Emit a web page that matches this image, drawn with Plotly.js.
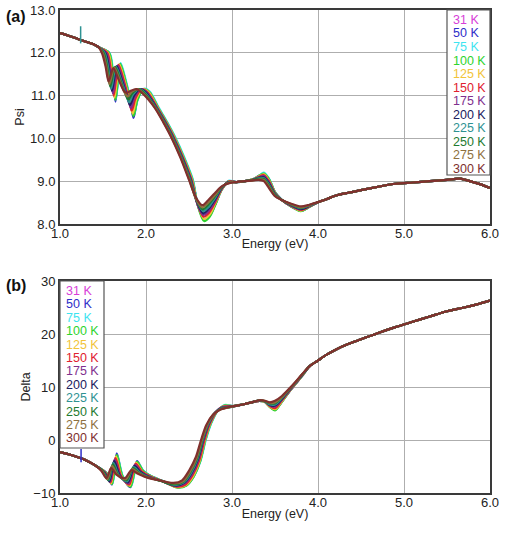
<!DOCTYPE html>
<html>
<head>
<meta charset="utf-8">
<script src="https://cdn.plot.ly/plotly-3.0.1.min.js"></script>
<style>html,body{margin:0;padding:0;background:#fff;}#chart{width:512px;height:534px;}</style>
</head>
<body>
<div id="chart"></div>
<script>
// ---------- DATA ----------
const temps = ['31 K','50 K','75 K','100 K','125 K','150 K','175 K','200 K','225 K','250 K','275 K','300 K'];

// Psi: common start / mid / tail
const psiStartE = [1.00,1.10,1.20,1.30,1.40,1.45];
const psiStartV = [12.46,12.40,12.33,12.26,12.19,12.13];
const psiMidE = [3.05,3.15];
const psiMidV = [8.98,9.00];
const psiBE = [3.25,3.31,3.37,3.43,3.50,3.58,3.68,3.80,3.90];
const psiTailE = [4.00,4.10,4.20,4.35,4.50,4.70,4.90,5.10,5.30,5.50,5.65,5.80,5.90,6.00];
const psiTailV = [8.51,8.58,8.66,8.73,8.79,8.87,8.94,8.97,9.00,9.03,9.06,8.98,8.92,8.84];

// Psi feature region 1.5-3.0 eV, per temperature (energies and values)
const psiE_31  = [1.57,1.61,1.645,1.70,1.76,1.82,1.855,1.90,1.97,2.04,2.14,2.24,2.34,2.44,2.54,2.60,2.675,2.74,2.80,2.88,2.96];
const psiE_50  = [1.57,1.61,1.645,1.70,1.76,1.82,1.855,1.90,1.97,2.04,2.14,2.24,2.34,2.44,2.54,2.60,2.675,2.74,2.80,2.88,2.96];
const psiE_75  = [1.575,1.615,1.65,1.705,1.765,1.825,1.86,1.905,1.975,2.045,2.145,2.245,2.345,2.445,2.545,2.60,2.675,2.74,2.80,2.88,2.96];
const psiE_100 = [1.57,1.61,1.645,1.70,1.76,1.82,1.855,1.90,1.97,2.04,2.14,2.24,2.34,2.44,2.54,2.60,2.675,2.74,2.80,2.88,2.96];
const psiE_125 = [1.56,1.60,1.635,1.69,1.75,1.81,1.845,1.89,1.96,2.03,2.135,2.235,2.335,2.435,2.535,2.60,2.675,2.74,2.80,2.88,2.96];
const psiE_150 = [1.55,1.59,1.625,1.68,1.74,1.80,1.835,1.88,1.95,2.02,2.13,2.23,2.33,2.43,2.53,2.595,2.67,2.735,2.80,2.88,2.96];
const psiE_175 = [1.54,1.58,1.615,1.67,1.73,1.79,1.825,1.87,1.94,2.01,2.125,2.225,2.325,2.425,2.525,2.59,2.665,2.73,2.80,2.88,2.96];
const psiE_200 = [1.53,1.57,1.605,1.66,1.72,1.78,1.815,1.86,1.93,2.00,2.12,2.22,2.32,2.42,2.52,2.59,2.665,2.73,2.80,2.88,2.96];
const psiE_225 = [1.52,1.56,1.595,1.65,1.71,1.77,1.805,1.85,1.92,1.99,2.115,2.215,2.315,2.415,2.515,2.59,2.665,2.73,2.80,2.88,2.96];
const psiE_250 = [1.51,1.55,1.585,1.64,1.70,1.76,1.795,1.84,1.91,1.98,2.11,2.21,2.31,2.41,2.51,2.585,2.66,2.725,2.80,2.88,2.96];
const psiE_275 = [1.50,1.54,1.575,1.63,1.69,1.75,1.785,1.83,1.90,1.97,2.105,2.205,2.305,2.405,2.505,2.58,2.655,2.72,2.80,2.88,2.96];
const psiE_300 = [1.49,1.53,1.565,1.62,1.68,1.74,1.775,1.82,1.89,1.96,2.10,2.20,2.30,2.40,2.50,2.58,2.655,2.72,2.80,2.88,2.96];

const psiA_31  = [12.00,11.60,10.92,11.74,11.35,10.86,10.55,10.91,11.15,11.08,10.72,10.38,10.00,9.55,9.03,8.46,8.10,8.20,8.44,8.80,9.00];
const psiA_50  = [12.00,11.58,10.86,11.74,11.35,10.84,10.48,10.90,11.15,11.08,10.72,10.38,10.00,9.55,9.03,8.46,8.11,8.20,8.43,8.80,9.00];
const psiA_75  = [12.00,11.61,10.93,11.76,11.36,10.87,10.56,10.92,11.16,11.09,10.73,10.39,10.01,9.56,9.04,8.46,8.11,8.21,8.44,8.81,9.01];
const psiA_100 = [12.00,11.60,10.90,11.74,11.35,10.85,10.52,10.90,11.15,11.08,10.72,10.38,10.00,9.55,9.03,8.45,8.07,8.17,8.42,8.80,9.00];
const psiA_125 = [12.00,11.61,10.95,11.73,11.35,10.88,10.58,10.93,11.15,11.08,10.72,10.38,10.00,9.55,9.03,8.47,8.12,8.22,8.46,8.81,8.99];
const psiA_150 = [12.00,11.62,11.00,11.72,11.36,10.91,10.65,10.95,11.15,11.07,10.72,10.38,10.00,9.55,9.03,8.49,8.17,8.27,8.49,8.82,8.99];
const psiA_175 = [11.99,11.63,11.05,11.70,11.36,10.95,10.71,10.98,11.15,11.07,10.72,10.38,10.00,9.55,9.03,8.51,8.21,8.31,8.53,8.83,8.98];
const psiA_200 = [11.99,11.64,11.11,11.69,11.36,10.98,10.78,11.00,11.15,11.07,10.72,10.38,10.00,9.55,9.03,8.53,8.25,8.36,8.56,8.84,8.98];
const psiA_225 = [11.99,11.65,11.16,11.68,11.37,11.01,10.84,11.03,11.15,11.06,10.72,10.38,10.00,9.55,9.03,8.55,8.30,8.40,8.60,8.85,8.97];
const psiA_250 = [11.99,11.66,11.21,11.67,11.37,11.04,10.91,11.05,11.15,11.06,10.72,10.38,10.00,9.55,9.03,8.57,8.34,8.45,8.64,8.86,8.96];
const psiA_275 = [11.98,11.67,11.27,11.66,11.38,11.08,10.98,11.08,11.15,11.05,10.72,10.38,10.00,9.55,9.03,8.59,8.39,8.49,8.67,8.87,8.96];
const psiA_300 = [11.98,11.68,11.33,11.64,11.38,11.12,11.06,11.11,11.15,11.05,10.72,10.38,10.00,9.55,9.03,8.62,8.44,8.55,8.72,8.88,8.95];

// Psi feature region 3.25-3.9 eV (on psiBE)
const psiB_31  = [9.05,9.12,9.17,9.04,8.74,8.56,8.42,8.31,8.40];
const psiB_50  = [9.05,9.12,9.17,9.05,8.74,8.56,8.42,8.31,8.40];
const psiB_75  = [9.05,9.12,9.20,9.06,8.75,8.56,8.42,8.31,8.40];
const psiB_100 = [9.05,9.12,9.18,9.05,8.74,8.56,8.42,8.30,8.40];
const psiB_125 = [9.05,9.11,9.16,9.02,8.73,8.56,8.43,8.31,8.41];
const psiB_150 = [9.04,9.10,9.14,9.00,8.72,8.56,8.43,8.33,8.41];
const psiB_175 = [9.04,9.09,9.12,8.97,8.71,8.56,8.44,8.34,8.42];
const psiB_200 = [9.04,9.08,9.09,8.95,8.70,8.56,8.45,8.35,8.42];
const psiB_225 = [9.03,9.07,9.07,8.92,8.69,8.56,8.46,8.37,8.43];
const psiB_250 = [9.03,9.06,9.05,8.90,8.68,8.56,8.46,8.38,8.44];
const psiB_275 = [9.02,9.04,9.03,8.87,8.66,8.56,8.47,8.39,8.44];
const psiB_300 = [9.02,9.03,9.00,8.84,8.65,8.56,8.48,8.41,8.45];

// Delta: common start / mid / tail
const deltaStartE = [1.00,1.10,1.20,1.30,1.40];
const deltaStartV = [-2.3,-2.7,-3.2,-3.8,-4.7];
const deltaMidE = [3.06,3.15,3.25];
const deltaMidV = [6.5,6.8,7.2];
const deltaBE = [3.32,3.38,3.44,3.50,3.58,3.66,3.74,3.82];
const deltaTailE = [3.90,4.00,4.10,4.20,4.35,4.50,4.70,4.90,5.10,5.30,5.50,5.70,5.85,6.00];
const deltaTailV = [13.9,15.0,16.1,17.0,18.1,19.0,20.2,21.3,22.3,23.3,24.3,25.0,25.6,26.3];

// Delta feature region 1.5-3.0 eV, per temperature
const deltaE_31  = [1.54,1.60,1.655,1.72,1.815,1.89,1.96,2.06,2.20,2.37,2.47,2.55,2.63,2.69,2.75,2.83,2.91,3.01];
const deltaE_50  = [1.545,1.605,1.66,1.725,1.82,1.895,1.965,2.065,2.20,2.37,2.47,2.55,2.63,2.69,2.75,2.83,2.91,3.01];
const deltaE_75  = [1.55,1.61,1.665,1.73,1.825,1.90,1.97,2.07,2.205,2.375,2.475,2.555,2.635,2.695,2.755,2.835,2.915,3.015];
const deltaE_100 = [1.545,1.605,1.66,1.725,1.82,1.895,1.965,2.065,2.20,2.37,2.47,2.55,2.63,2.69,2.75,2.83,2.91,3.01];
const deltaE_125 = [1.535,1.595,1.65,1.715,1.81,1.885,1.955,2.055,2.195,2.365,2.465,2.545,2.625,2.685,2.745,2.825,2.905,3.005];
const deltaE_150 = [1.53,1.59,1.645,1.71,1.805,1.88,1.95,2.05,2.19,2.36,2.46,2.54,2.62,2.68,2.74,2.82,2.90,3.00];
const deltaE_175 = [1.52,1.58,1.635,1.70,1.795,1.87,1.94,2.04,2.18,2.35,2.45,2.53,2.61,2.67,2.73,2.81,2.89,2.99];
const deltaE_200 = [1.515,1.575,1.63,1.695,1.79,1.865,1.935,2.035,2.175,2.345,2.445,2.525,2.605,2.665,2.725,2.805,2.885,2.985];
const deltaE_225 = [1.505,1.565,1.62,1.685,1.78,1.855,1.925,2.025,2.17,2.34,2.44,2.52,2.60,2.66,2.72,2.80,2.88,2.98];
const deltaE_250 = [1.50,1.56,1.615,1.68,1.775,1.85,1.92,2.02,2.165,2.335,2.435,2.515,2.595,2.655,2.715,2.795,2.875,2.975];
const deltaE_275 = [1.49,1.55,1.605,1.67,1.765,1.84,1.91,2.01,2.16,2.33,2.43,2.51,2.59,2.65,2.71,2.79,2.87,2.97];
const deltaE_300 = [1.48,1.54,1.595,1.66,1.755,1.83,1.90,2.00,2.15,2.32,2.42,2.50,2.58,2.64,2.70,2.78,2.86,2.96];

const deltaA_31  = [-6.3,-8.2,-2.9,-6.8,-8.7,-4.2,-5.8,-6.9,-7.8,-8.9,-8.5,-6.9,-3.9,0.0,3.0,5.5,6.4,6.4];
const deltaA_50  = [-6.3,-8.4,-2.5,-6.8,-8.9,-4.0,-5.8,-6.9,-7.8,-8.9,-8.5,-6.9,-3.9,0.0,3.0,5.5,6.4,6.4];
const deltaA_75  = [-6.3,-8.2,-3.0,-6.8,-8.7,-4.2,-5.8,-6.9,-7.8,-8.9,-8.5,-6.9,-3.9,0.0,3.0,5.5,6.6,6.4];
const deltaA_100 = [-6.3,-8.3,-2.8,-6.8,-8.8,-4.1,-5.8,-6.9,-7.8,-9.0,-8.6,-7.0,-4.0,0.0,3.0,5.5,6.5,6.4];
const deltaA_125 = [-6.2,-8.2,-3.1,-6.8,-8.6,-4.3,-5.9,-6.9,-7.8,-8.9,-8.5,-6.9,-3.9,0.0,3.0,5.4,6.4,6.4];
const deltaA_150 = [-6.2,-8.0,-3.4,-6.8,-8.4,-4.5,-5.9,-6.9,-7.8,-8.8,-8.4,-6.7,-3.8,0.0,3.0,5.3,6.3,6.3];
const deltaA_175 = [-6.1,-7.9,-3.7,-6.7,-8.2,-4.7,-6.0,-6.9,-7.7,-8.7,-8.2,-6.6,-3.7,0.0,2.9,5.3,6.2,6.3];
const deltaA_200 = [-6.1,-7.8,-4.0,-6.7,-8.0,-4.9,-6.0,-7.0,-7.7,-8.6,-8.1,-6.4,-3.6,0.0,2.9,5.2,6.1,6.3];
const deltaA_225 = [-6.0,-7.6,-4.3,-6.7,-7.8,-5.1,-6.1,-7.0,-7.7,-8.5,-8.0,-6.3,-3.5,0.0,2.9,5.1,6.0,6.2];
const deltaA_250 = [-5.9,-7.5,-4.6,-6.7,-7.6,-5.3,-6.2,-7.0,-7.7,-8.4,-7.9,-6.1,-3.4,0.0,2.9,5.0,5.9,6.2];
const deltaA_275 = [-5.9,-7.4,-4.9,-6.6,-7.4,-5.5,-6.2,-7.0,-7.6,-8.2,-7.8,-6.0,-3.3,0.0,2.8,4.9,5.8,6.2];
const deltaA_300 = [-5.8,-7.2,-5.3,-6.6,-7.2,-5.7,-6.3,-7.0,-7.6,-8.1,-7.6,-5.8,-3.2,0.0,2.8,4.8,5.7,6.2];

// Delta feature region 3.3-3.8 eV (on deltaBE)
const deltaB_31  = [7.4,7.2,6.3,5.8,7.3,9.0,10.6,12.2];
const deltaB_50  = [7.4,7.2,6.3,5.7,7.2,9.0,10.6,12.2];
const deltaB_75  = [7.4,7.2,6.3,5.7,7.3,9.0,10.6,12.2];
const deltaB_100 = [7.4,7.2,6.2,5.6,7.2,9.0,10.6,12.2];
const deltaB_125 = [7.4,7.2,6.3,5.8,7.3,9.1,10.6,12.2];
const deltaB_150 = [7.4,7.3,6.4,6.0,7.5,9.1,10.7,12.3];
const deltaB_175 = [7.4,7.3,6.5,6.3,7.6,9.2,10.7,12.3];
const deltaB_200 = [7.5,7.3,6.6,6.5,7.7,9.3,10.8,12.3];
const deltaB_225 = [7.5,7.3,6.7,6.7,7.9,9.4,10.8,12.4];
const deltaB_250 = [7.5,7.3,6.9,6.9,8.0,9.4,10.9,12.4];
const deltaB_275 = [7.5,7.4,7.0,7.1,8.1,9.5,10.9,12.5];
const deltaB_300 = [7.5,7.4,7.1,7.4,8.3,9.6,11.0,12.5];

// measurement glitches near 1.24 eV
const psiSpikeE = [1.24,1.24];
const psiSpikeV = [12.62,12.22];
const deltaSpikeE = [1.245,1.245];
const deltaSpikeV = [-1.7,-4.2];

// ---------- STYLE ----------
const colors = ['#d83ed8','#2e2ec8','#3ee4f0','#2ed42e','#f2c43a','#e0202e','#80308e','#20205e','#2e9292','#1e7a30','#8e703e','#80302e'];

const psiEs = [psiE_31,psiE_50,psiE_75,psiE_100,psiE_125,psiE_150,psiE_175,psiE_200,psiE_225,psiE_250,psiE_275,psiE_300];
const psiAs = [psiA_31,psiA_50,psiA_75,psiA_100,psiA_125,psiA_150,psiA_175,psiA_200,psiA_225,psiA_250,psiA_275,psiA_300];
const psiBs = [psiB_31,psiB_50,psiB_75,psiB_100,psiB_125,psiB_150,psiB_175,psiB_200,psiB_225,psiB_250,psiB_275,psiB_300];
const deltaEs = [deltaE_31,deltaE_50,deltaE_75,deltaE_100,deltaE_125,deltaE_150,deltaE_175,deltaE_200,deltaE_225,deltaE_250,deltaE_275,deltaE_300];
const deltaAs = [deltaA_31,deltaA_50,deltaA_75,deltaA_100,deltaA_125,deltaA_150,deltaA_175,deltaA_200,deltaA_225,deltaA_250,deltaA_275,deltaA_300];
const deltaBs = [deltaB_31,deltaB_50,deltaB_75,deltaB_100,deltaB_125,deltaB_150,deltaB_175,deltaB_200,deltaB_225,deltaB_250,deltaB_275,deltaB_300];

const traces = [];
temps.forEach((t, i) => {
  traces.push({
    type: 'scatter', mode: 'lines', name: t, xaxis: 'x', yaxis: 'y',
    x: [...psiStartE, ...psiEs[i], ...psiMidE, ...psiBE, ...psiTailE],
    y: [...psiStartV, ...psiAs[i], ...psiMidV, ...psiBs[i], ...psiTailV],
    line: {color: colors[i], width: 2.2, shape: 'spline', smoothing: 0.8},
    showlegend: false, hoverinfo: 'skip'
  });
});
temps.forEach((t, i) => {
  traces.push({
    type: 'scatter', mode: 'lines', name: t, xaxis: 'x2', yaxis: 'y2',
    x: [...deltaStartE, ...deltaEs[i], ...deltaMidE, ...deltaBE, ...deltaTailE],
    y: [...deltaStartV, ...deltaAs[i], ...deltaMidV, ...deltaBs[i], ...deltaTailV],
    line: {color: colors[i], width: 2.2, shape: 'spline', smoothing: 0.8},
    showlegend: false, hoverinfo: 'skip'
  });
});
traces.push({type:'scatter', mode:'lines', x: psiSpikeE, y: psiSpikeV, xaxis:'x', yaxis:'y',
  line:{color: colors[8], width: 1.5}, showlegend:false, hoverinfo:'skip'});
traces.push({type:'scatter', mode:'lines', x: deltaSpikeE, y: deltaSpikeV, xaxis:'x2', yaxis:'y2',
  line:{color: colors[1], width: 1.5}, showlegend:false, hoverinfo:'skip'});

const W = 512, H = 534;
const px = v => v / W;
const py = v => 1 - v / H;

const font = 'Liberation Sans, Arial, Helvetica, sans-serif';
const axisCommon = {
  showgrid: true, gridcolor: '#aeaeae', gridwidth: 1,
  showline: true, mirror: true, linecolor: '#3a3a3a', linewidth: 2,
  zeroline: false, ticks: '', tickfont: {size: 13, color: '#222'}
};

const annotations = [
  {text: '<b>(a)</b>', x: px(4), y: py(17), xref: 'paper', yref: 'paper', xanchor: 'left', yanchor: 'middle', showarrow: false, font: {size: 16, color: '#111'}},
  {text: '<b>(b)</b>', x: px(4), y: py(285), xref: 'paper', yref: 'paper', xanchor: 'left', yanchor: 'middle', showarrow: false, font: {size: 16, color: '#111'}}
];
temps.forEach((t, i) => {
  annotations.push({text: t, x: px(451), y: py(20 + i * 13.5), xref: 'paper', yref: 'paper', xanchor: 'left', yanchor: 'middle', showarrow: false, font: {size: 12.5, color: colors[i]}});
  annotations.push({text: t, x: px(64), y: py(291 + i * 13.4), xref: 'paper', yref: 'paper', xanchor: 'left', yanchor: 'middle', showarrow: false, font: {size: 12.5, color: colors[i]}});
});

const layout = {
  width: W, height: H,
  margin: {l: 0, r: 0, t: 0, b: 0},
  paper_bgcolor: '#fff', plot_bgcolor: '#fff',
  showlegend: false,
  font: {family: font, size: 13, color: '#222'},
  xaxis: Object.assign({}, axisCommon, {domain: [px(60), px(490)], anchor: 'y', range: [1, 6], dtick: 1, tick0: 1, tickformat: '.1f',
    ticklabelstandoff: -4, title: {text: 'Energy (eV)', font: {size: 12.5}, standoff: 0}}),
  yaxis: Object.assign({}, axisCommon, {domain: [py(224), py(10)], anchor: 'x', range: [8, 13], dtick: 1, tick0: 8, tickformat: '.1f',
    title: {text: 'Psi', font: {size: 12.5}, standoff: 3}}),
  xaxis2: Object.assign({}, axisCommon, {domain: [px(60), px(490)], anchor: 'y2', range: [1, 6], dtick: 1, tick0: 1, tickformat: '.1f',
    ticklabelstandoff: -4, title: {text: 'Energy (eV)', font: {size: 12.5}, standoff: 1}}),
  yaxis2: Object.assign({}, axisCommon, {domain: [py(493), py(281)], anchor: 'x2', range: [-10, 30], dtick: 10, tick0: -10,
    title: {text: 'Delta', font: {size: 12.5}, standoff: 0}}),
  shapes: [
    {type: 'rect', xref: 'paper', yref: 'paper', x0: px(447), x1: px(490), y0: py(175), y1: py(10), line: {color: '#555', width: 1.2}, fillcolor: '#fff', layer: 'above'},
    {type: 'rect', xref: 'paper', yref: 'paper', x0: px(60), x1: px(104), y0: py(448), y1: py(281), line: {color: '#555', width: 1.2}, fillcolor: '#fff', layer: 'above'}
  ],
  annotations: annotations
};

Plotly.newPlot('chart', traces, layout, {displayModeBar: false, staticPlot: true});
</script>
</body>
</html>
